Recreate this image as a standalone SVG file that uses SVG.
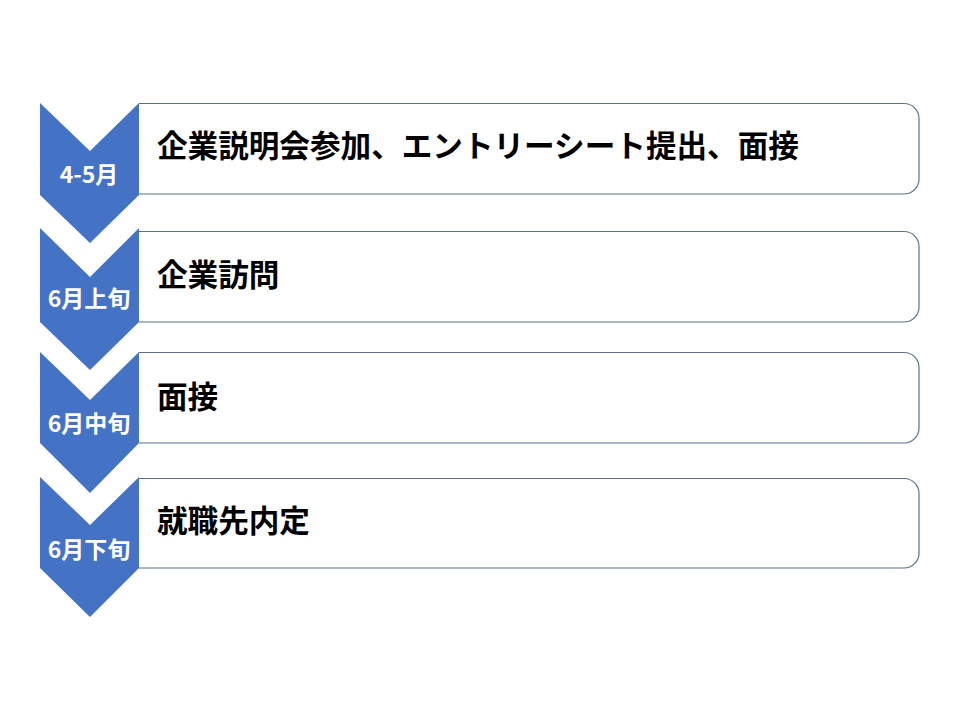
<svg xmlns="http://www.w3.org/2000/svg" width="960" height="720" viewBox="0 0 960 720">
<style>
.chev{fill:#4472C4}
.box{fill:#ffffff;stroke:#5B7088;stroke-width:1.2}
.lbl{font-family:"Noto Sans CJK JP","Noto Sans",sans-serif;font-size:23px;font-weight:bold;fill:#ffffff;text-anchor:middle;dominant-baseline:central}
.txt{font-family:"Noto Sans CJK JP","Noto Sans",sans-serif;font-size:30.6px;font-weight:bold;fill:#000000}
</style>
<rect width="960" height="720" fill="#ffffff"/>
<g id="step1">
<path class="box" d="M139,103.5 H904 A15,15 0 0 1 919,118.5 V179 A15,15 0 0 1 904,194 H139"/>
<polygon class="chev" points="40,103 90,151 139,103 139,195 90,243 40,195"/>
<text class="lbl" x="89" y="173">4-5月</text>
<text class="txt" x="157" y="157">企業説明会参加、エントリーシート提出、面接</text>
</g>
<g id="step2">
<path class="box" d="M139,231.5 H904 A15,15 0 0 1 919,246.5 V307 A15,15 0 0 1 904,322 H139"/>
<polygon class="chev" points="40,228 90,277 139,228 139,322 90,370 40,322"/>
<text class="lbl" x="89" y="297">6月上旬</text>
<text class="txt" x="157" y="286">企業訪問</text>
</g>
<g id="step3">
<path class="box" d="M139,352.5 H904 A15,15 0 0 1 919,367.5 V428 A15,15 0 0 1 904,443 H139"/>
<polygon class="chev" points="40,352 90,400 139,352 139,443 90,493 40,443"/>
<text class="lbl" x="89" y="422">6月中旬</text>
<text class="txt" x="157" y="408">面接</text>
</g>
<g id="step4">
<path class="box" d="M139,478.5 H904 A15,15 0 0 1 919,493.5 V553 A15,15 0 0 1 904,568 H139"/>
<polygon class="chev" points="40,477 90,525 139,477 139,568 90,617 40,568"/>
<text class="lbl" x="89" y="548">6月下旬</text>
<text class="txt" x="157" y="532">就職先内定</text>
</g>
<g id="connectors"></g>
</svg>
